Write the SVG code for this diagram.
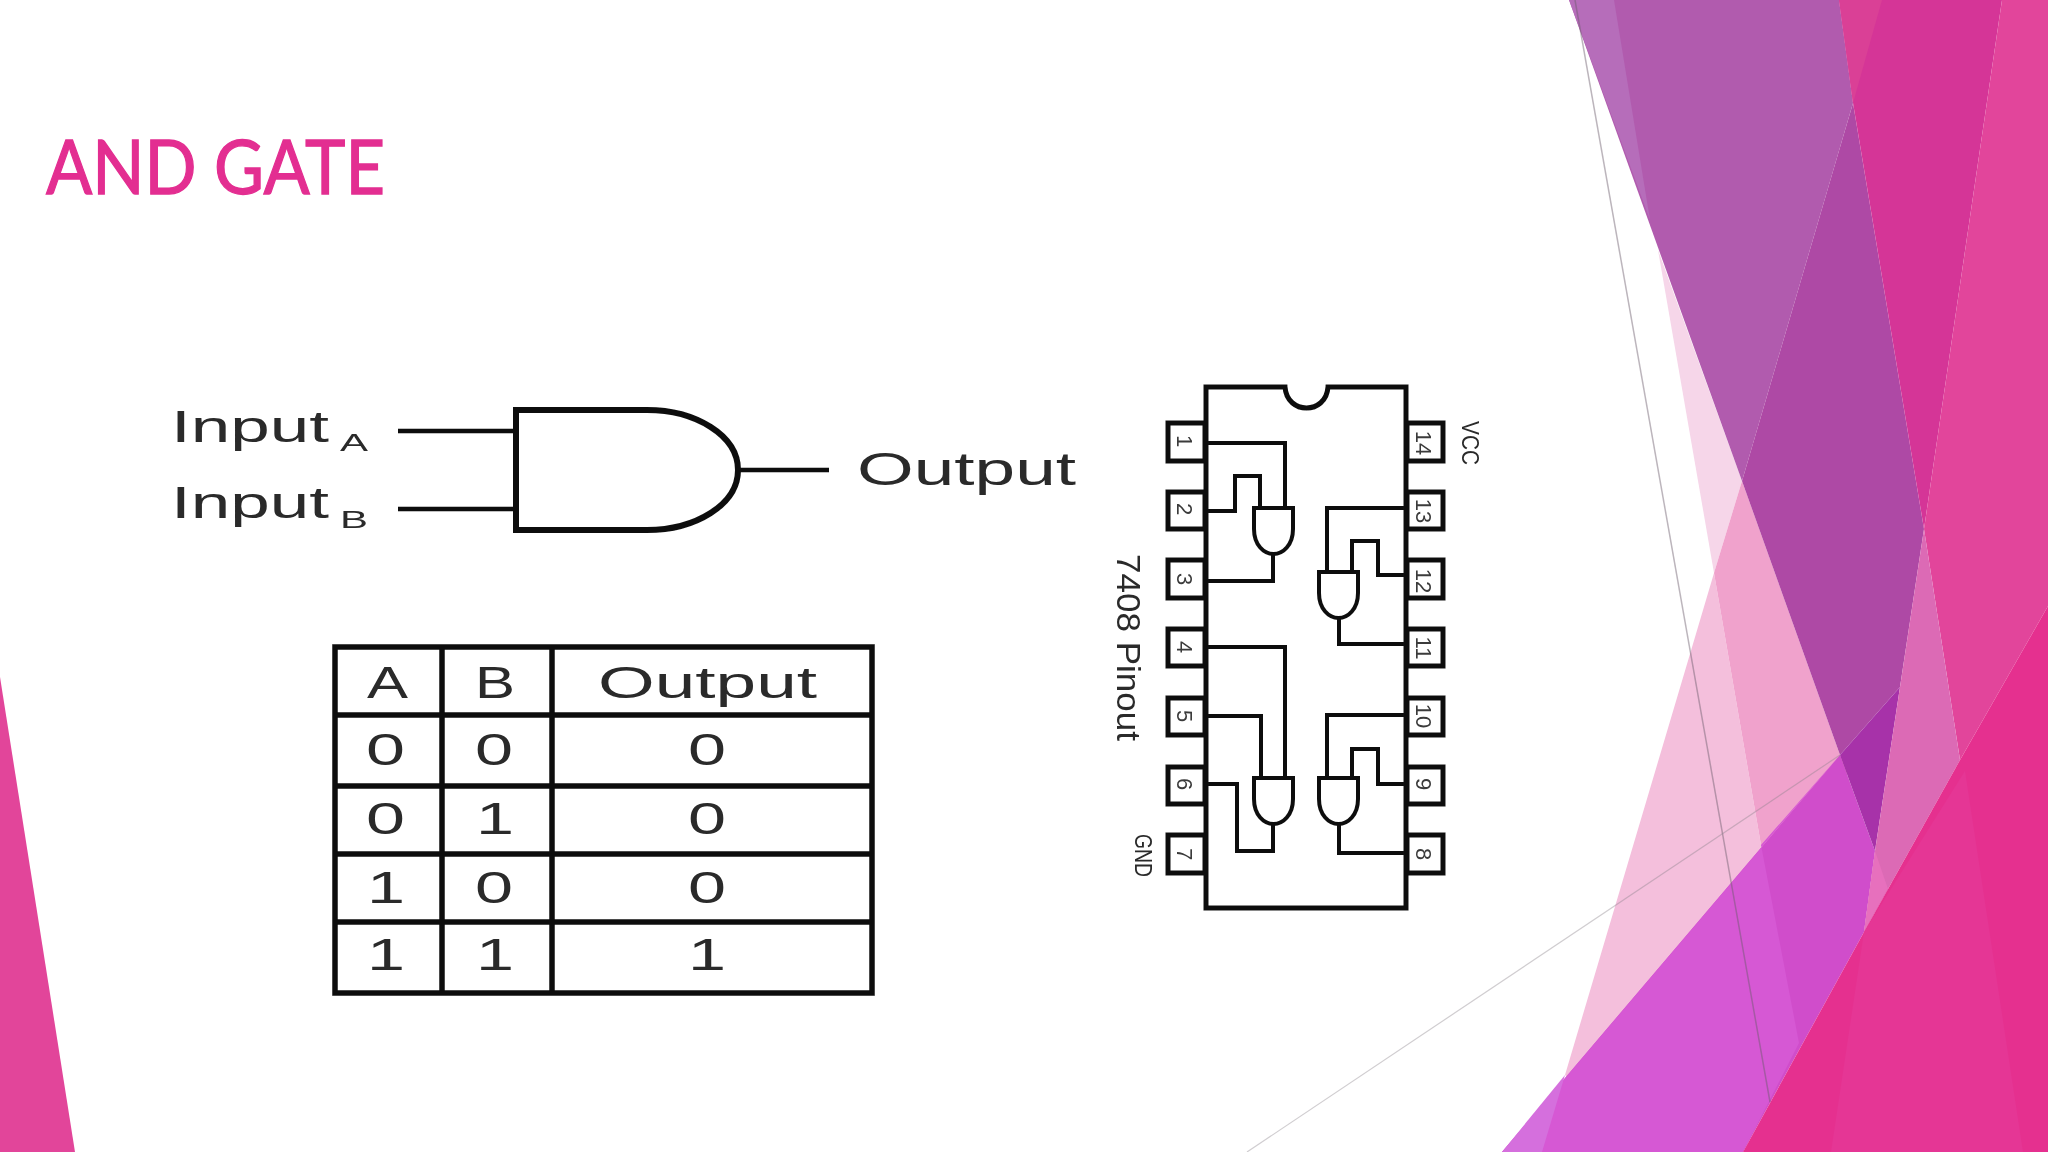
<svg xmlns="http://www.w3.org/2000/svg" width="2048" height="1152" viewBox="0 0 2048 1152">
<style>
.t{font-family:"Liberation Sans",Arial,sans-serif;fill:#2a2a2a}
.w{fill:none;stroke:#111;stroke-width:4}
.b{fill:none;stroke:#111;stroke-width:4.400}
.pin{fill:#fff;stroke:#111;stroke-width:5}
.n{font-family:"Liberation Sans",Arial,sans-serif;fill:#3a3a3a;font-size:22px;text-anchor:middle}
.tbl{fill:none;stroke:#0c0c0c;stroke-width:5.500}
</style>
<defs>
<filter id="soft" x="-2%" y="-2%" width="104%" height="104%"><feGaussianBlur stdDeviation="0.6"/></filter>
<path id="g" d="M0,0H39V21C39,37 29,46 19.500,46C10,46 0,37 0,21Z" fill="#fff" stroke="#111" stroke-width="4"/>
</defs>
<rect width="2048" height="1152" fill="#fff"/>
<g id="background">
<polygon points="0,677 75,1152 0,1152" fill="#e2459a"/>
<polygon points="1658,250 1742,481 1714,573" fill="#f6d6e9"/>
<polygon points="1714,573 1761,845 1770,860 1580,1090 1565,1075 1690,654" fill="#f4bfdc"/>
<polygon points="1742,481 1840,755 1850,770 1770,860 1761,845 1714,573" fill="#f0a2cc"/>
<polygon points="1502,1152 1840,755 1875,851 1864,932 1743,1152" fill="#d04dcb"/>
<polygon points="1502,1152 1840,755 1761,845 1799,1043 1743,1152" fill="#d658d4"/>
<polygon points="1502,1152 1565,1075 1542,1152" fill="#d56fdd"/>
<polygon points="1569,0 1839,0 1853,103 1742,481" fill="#b15bae"/>
<polygon points="1569,0 1614,0 1650,220" fill="#b66dba"/>
<polygon points="1853,103 1924,529 1900,687 1840,755 1742,481" fill="#ae49a5"/>
<polygon points="1840,755 1900,687 1875,851" fill="#a732a9"/>
<polygon points="1839,0 2002,0 1924,529 1853,103" fill="#d53597"/>
<polygon points="1839,0 1882,0 1853,103" fill="#da4096"/>
<polygon points="2002,0 2048,0 2048,606 1960,760 1924,529" fill="#e2459b"/>
<polygon points="1924,529 1960,760 1864,932 1875,851 1900,687" fill="#dc6ab5"/>
<polygon points="1875,851 1888,889 1864,932" fill="#e770bd"/>
<polygon points="1743,1152 1864,932 1960,760 2048,606 2048,1152" fill="#e5308f"/>
<polygon points="1831,1152 1864,932 1965,771 2023,1152" fill="#e53695"/>
<line x1="1575" y1="0" x2="1770" y2="1102" stroke="#6a5a6a" stroke-opacity="0.45" stroke-width="1.500"/>
<line x1="1247" y1="1152" x2="1840" y2="755" stroke="#8a828a" stroke-opacity="0.4" stroke-width="1.200"/>
</g>
<text id="title" x="46" y="194" font-family="Lato,'Open Sans',sans-serif" font-size="76" textLength="339" lengthAdjust="spacingAndGlyphs" fill="#e32e91" stroke="#e32e91" stroke-width="1.300">AND GATE</text>
<g id="connectors" filter="url(#soft)">
<path class="b" d="M398,431H516M398,509H516M738,470H829"/>
<path class="w" d="M1207,443H1285V508M1207,511H1235V476H1260V508M1273,554V581H1207"/>
<path class="w" d="M1405,508H1327V572M1405,575H1378V541H1352V572M1339,617V644H1405"/>
<path class="w" d="M1207,647H1285V778M1207,716H1261V778M1207,784H1237V851H1273V824"/>
<path class="w" d="M1405,715H1327V778M1405,784H1378V749H1352V778M1339,824V853H1405"/>
</g>
<g id="and-gate" filter="url(#soft)">
<path d="M516,410H647C695,410 738,435 738,470C738,505 695,530 647,530H516Z" fill="#fff" stroke="#111" stroke-width="6"/>
<text class="t" x="171" y="442" font-size="45" textLength="158" lengthAdjust="spacingAndGlyphs">Input</text>
<text class="t" x="340" y="451" font-size="24" textLength="28" lengthAdjust="spacingAndGlyphs">A</text>
<text class="t" x="171" y="518" font-size="45" textLength="158" lengthAdjust="spacingAndGlyphs">Input</text>
<text class="t" x="340" y="528" font-size="24" textLength="28" lengthAdjust="spacingAndGlyphs">B</text>
<text class="t" x="857" y="485" font-size="46" textLength="219" lengthAdjust="spacingAndGlyphs">Output</text>
</g>
<g id="truth-table" filter="url(#soft)">
<rect class="tbl" x="335" y="647" width="537" height="346"/>
<path class="tbl" d="M442,647V993M552,647V993M335,715H872M335,786H872M335,854H872M335,922H872"/>
<g class="t" font-size="45">
<text x="367" y="698" textLength="41" lengthAdjust="spacingAndGlyphs">A</text>
<text x="475" y="698" textLength="40" lengthAdjust="spacingAndGlyphs">B</text>
<text x="598" y="698" textLength="219" lengthAdjust="spacingAndGlyphs">Output</text>
<text x="366" y="765" textLength="39" lengthAdjust="spacingAndGlyphs">0</text>
<text x="475" y="765" textLength="38" lengthAdjust="spacingAndGlyphs">0</text>
<text x="688" y="765" textLength="38" lengthAdjust="spacingAndGlyphs">0</text>
<text x="366" y="834" textLength="39" lengthAdjust="spacingAndGlyphs">0</text>
<text x="476" y="834" textLength="38" lengthAdjust="spacingAndGlyphs">1</text>
<text x="688" y="834" textLength="38" lengthAdjust="spacingAndGlyphs">0</text>
<text x="367" y="903" textLength="38" lengthAdjust="spacingAndGlyphs">1</text>
<text x="475" y="903" textLength="38" lengthAdjust="spacingAndGlyphs">0</text>
<text x="688" y="903" textLength="38" lengthAdjust="spacingAndGlyphs">0</text>
<text x="367" y="970" textLength="38" lengthAdjust="spacingAndGlyphs">1</text>
<text x="476" y="970" textLength="38" lengthAdjust="spacingAndGlyphs">1</text>
<text x="688" y="970" textLength="38" lengthAdjust="spacingAndGlyphs">1</text>
</g>
</g>
<g id="ic-7408" filter="url(#soft)">
<g id="pins">
<rect class="pin" x="1168" y="423" width="37" height="38"/><rect class="pin" x="1168" y="492" width="37" height="37"/><rect class="pin" x="1168" y="560" width="37" height="38"/><rect class="pin" x="1168" y="629" width="37" height="37"/><rect class="pin" x="1168" y="698" width="37" height="37"/><rect class="pin" x="1168" y="767" width="37" height="37"/><rect class="pin" x="1168" y="835" width="37" height="38"/>
<rect class="pin" x="1407" y="423" width="36" height="38"/><rect class="pin" x="1407" y="492" width="36" height="37"/><rect class="pin" x="1407" y="560" width="36" height="38"/><rect class="pin" x="1407" y="629" width="36" height="37"/><rect class="pin" x="1407" y="698" width="36" height="37"/><rect class="pin" x="1407" y="767" width="36" height="37"/><rect class="pin" x="1407" y="835" width="36" height="38"/>
</g>
<path d="M1206,387H1285C1287,415 1326,415 1328,387H1406V908H1206Z" fill="none" stroke="#111" stroke-width="5"/>
<use href="#g" x="1254" y="508"/><use href="#g" x="1319" y="572"/><use href="#g" x="1254" y="778"/><use href="#g" x="1319" y="778"/>
<g>
<text class="n" transform="translate(1177,441) rotate(90)">1</text>
<text class="n" transform="translate(1177,509) rotate(90)">2</text>
<text class="n" transform="translate(1177,579) rotate(90)">3</text>
<text class="n" transform="translate(1177,647) rotate(90)">4</text>
<text class="n" transform="translate(1177,716) rotate(90)">5</text>
<text class="n" transform="translate(1177,784) rotate(90)">6</text>
<text class="n" transform="translate(1177,854) rotate(90)">7</text>
<text class="n" transform="translate(1416,854) rotate(90)">8</text>
<text class="n" transform="translate(1416,784) rotate(90)">9</text>
<text class="n" transform="translate(1416,716) rotate(90)">10</text>
<text class="n" transform="translate(1416,648) rotate(90)">11</text>
<text class="n" transform="translate(1416,581) rotate(90)">12</text>
<text class="n" transform="translate(1416,511) rotate(90)">13</text>
<text class="n" transform="translate(1416,443) rotate(90)">14</text>
</g>
<text class="t" transform="translate(1117,554) rotate(90)" font-size="33" textLength="187" lengthAdjust="spacingAndGlyphs">7408 Pinout</text>
<text class="t" transform="translate(1462,421) rotate(90)" font-size="24" textLength="44" lengthAdjust="spacingAndGlyphs">VCC</text>
<text class="t" transform="translate(1135,834) rotate(90)" font-size="23" textLength="43" lengthAdjust="spacingAndGlyphs">GND</text>
</g>
</svg>
